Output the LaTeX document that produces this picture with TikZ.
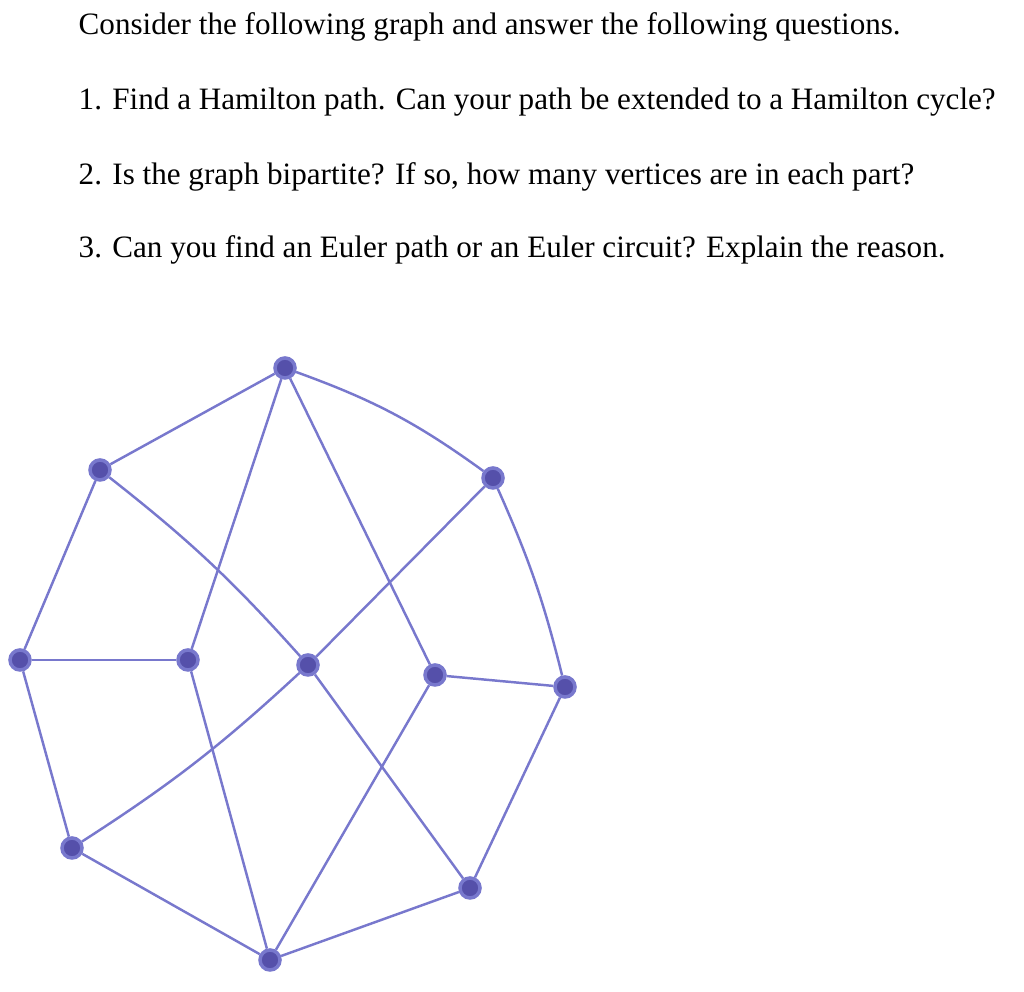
\documentclass[tikz,border=0pt]{standalone}
\usepackage{fontspec}
\setmainfont{Liberation Serif}
\definecolor{pen}{RGB}{120,120,205}
\definecolor{dot}{RGB}{85,80,170}
\begin{document}
\begin{tikzpicture}[x=0.01cm,y=-0.01cm,
  v/.style={circle,fill=dot,draw=pen,line width=1pt,inner sep=0pt,minimum size=0.2cm},
  e/.style={draw=pen,line width=0.7pt},
  t/.style={anchor=base west,inner sep=0pt,font=\fontsize{8.85pt}{10pt}\selectfont}]
\useasboundingbox (0,0) rectangle (1024,992);
\node[t] (q0) at (78,35) {Consider the following graph and answer the following questions.};
\node[t] (q1) at (78,110) {1. Find a Hamilton path. Can your path be extended to a Hamilton cycle?};
\node[t] (q2) at (78,185) {2. Is the graph bipartite? If so, how many vertices are in each part?};
\node[t] (q3) at (78,258) {3. Can you find an Euler path or an Euler circuit? Explain the reason.};
\node[v] (A) at (285,368) {};
\node[v] (B) at (100,470) {};
\node[v] (C) at (493,478) {};
\node[v] (D) at (20,660) {};
\node[v] (E) at (188,660) {};
\node[v] (F) at (308,665) {};
\node[v] (G) at (435,675) {};
\node[v] (H) at (565,687) {};
\node[v] (I) at (72,848) {};
\node[v] (J) at (470,888) {};
\node[v] (K) at (270,960) {};
\draw[e] (A) -- (B); \draw[e] (A) to[bend left=8] (C); \draw[e] (A) -- (E); \draw[e] (A) -- (G);
\draw[e] (B) -- (D); \draw[e] (B) to[bend left=5] (F);
\draw[e] (C) -- (F); \draw[e] (C) to[bend left=5] (H);
\draw[e] (D) -- (E); \draw[e] (D) -- (I);
\draw[e] (E) -- (K);
\draw[e] (F) to[bend left=5] (I); \draw[e] (F) -- (J);
\draw[e] (G) -- (H); \draw[e] (G) -- (K);
\draw[e] (H) -- (J);
\draw[e] (I) -- (K); \draw[e] (J) -- (K);
\end{tikzpicture}
\end{document}
